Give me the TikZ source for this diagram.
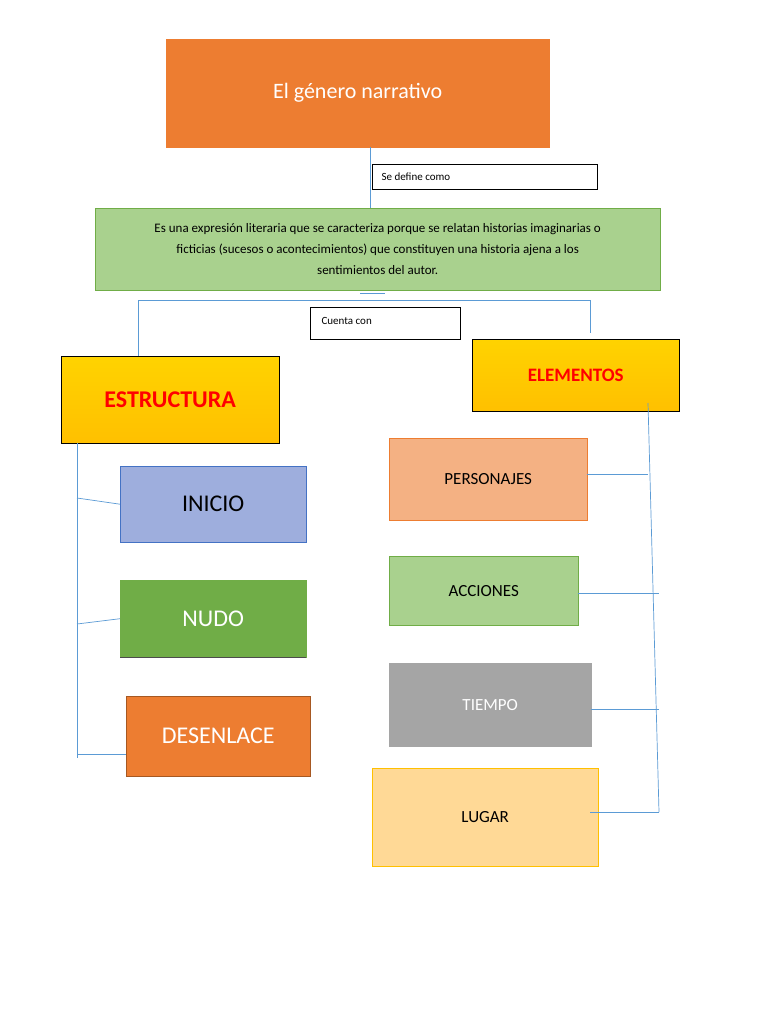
\documentclass[tikz,border=0pt]{standalone}
\usepackage{fontspec}
\setmainfont{Carlito}
\definecolor{lnc}{HTML}{5B9BD5}
\definecolor{orng}{HTML}{ED7D31}
\definecolor{grn}{HTML}{A9D18E}
\definecolor{grnd}{HTML}{70AD47}
\definecolor{gold}{HTML}{FFC000}
\definecolor{blu}{HTML}{9EAEDD}
\definecolor{blud}{HTML}{4472C4}
\definecolor{salm}{HTML}{F4B183}
\definecolor{gry}{HTML}{A5A5A5}
\definecolor{lgold}{HTML}{FFD996}
\definecolor{redt}{HTML}{FF0000}
\begin{document}
\begin{tikzpicture}[x=1pt,y=-1pt]
\tikzset{conn/.style={draw=lnc,line width=0.7pt}}
\useasboundingbox[fill=white] (0,0) rectangle (768,1024);
\def\bx#1#2#3#4#5#6#7{\node[#6,draw,rectangle,anchor=north west,minimum width=#3-#1,minimum height=#4-#2,inner sep=0pt,align=center] (#5) at (#1,#2) {#7};}
\bx{166}{39}{549}{147}{title}{fill=orng,draw=orng,text=white,font=\fontsize{22}{26}\selectfont}{El género narrativo}
\bx{372}{164}{597}{189}{sedef}{fill=white,draw=black,line width=0.8pt}{}
\node[anchor=west,font=\fontsize{11}{13}\selectfont] (sedeft) at (378,177) {Se define como};
\bx{95}{208}{660}{290}{def}{fill=grn,draw=grnd,font=\fontsize{13}{21}\selectfont}{Es una expresión literaria que se caracteriza porque se relatan historias imaginarias o\\ficticias (sucesos o acontecimientos) que constituyen una historia ajena a los\\sentimientos del autor.}
\bx{310}{307}{460}{339}{cuenta}{fill=white,draw=black,line width=0.8pt}{}
\node[anchor=west,font=\fontsize{11}{13}\selectfont] (cuentat) at (318,321) {Cuenta con};
\bx{61}{356}{279}{443}{estr}{top color=gold!70!yellow,bottom color=gold,draw=none,text=redt,font=\bfseries\fontsize{24}{28}\selectfont}{ESTRUCTURA}
\bx{472}{339}{679}{411}{elem}{top color=gold!70!yellow,bottom color=gold,draw=none,text=redt,font=\bfseries\fontsize{19}{23}\selectfont}{ELEMENTOS}
\bx{120}{466}{306}{542}{ini}{fill=blu,draw=blud,font=\fontsize{24}{28}\selectfont}{INICIO}
\bx{120}{580}{306}{657}{nudo}{fill=grnd,draw=grnd,text=white,font=\fontsize{24}{28}\selectfont}{NUDO}
\draw[black!70,line width=1pt] (nudo.south west) -- (nudo.south east);
\bx{126}{696}{310}{776}{des}{fill=orng,draw=orng!70!black,text=white,font=\fontsize{24}{28}\selectfont}{DESENLACE}
\bx{389}{438}{587}{520}{pers}{fill=salm,draw=orng,font=\fontsize{17}{20}\selectfont}{PERSONAJES}
\bx{389}{556}{578}{625}{acc}{fill=grn,draw=grnd,font=\fontsize{17}{20}\selectfont}{ACCIONES}
\bx{389}{663}{591}{746}{tiem}{fill=gry,draw=gry,text=white,font=\fontsize{17}{20}\selectfont}{TIEMPO}
\bx{372}{768}{598}{866}{lug}{fill=lgold,draw=gold,font=\fontsize{17}{20}\selectfont}{LUGAR}
% connectors
\draw[conn] (370,147) -- (370,208);
\draw[conn] (360,293) -- (385,293);
\draw[conn] (138,356) -- (138,300) -- (590,300) -- (590,333);
\coordinate (ls1) at (77,443);
\coordinate (ls2) at (77,758);
\draw[conn] (ls1) -- (ls2);
\draw[conn] (77,498) -- (ini.west);
\draw[conn] (77,624) -- (nudo.west);
\draw[conn] (77,754) -- (des.west |- 0,754);
\coordinate (rs1) at (648,403);
\coordinate (rs2) at (659,812);
\draw[conn] (rs1) -- (rs2);
\draw[conn] (pers.east |- 0,474) -- (648,474);
\draw[conn] (acc.east |- 0,593) -- (659,593);
\draw[conn] (tiem.east |- 0,709) -- (659,709);
\draw[conn] (590,812) -- (659,812);
\end{tikzpicture}
\end{document}
